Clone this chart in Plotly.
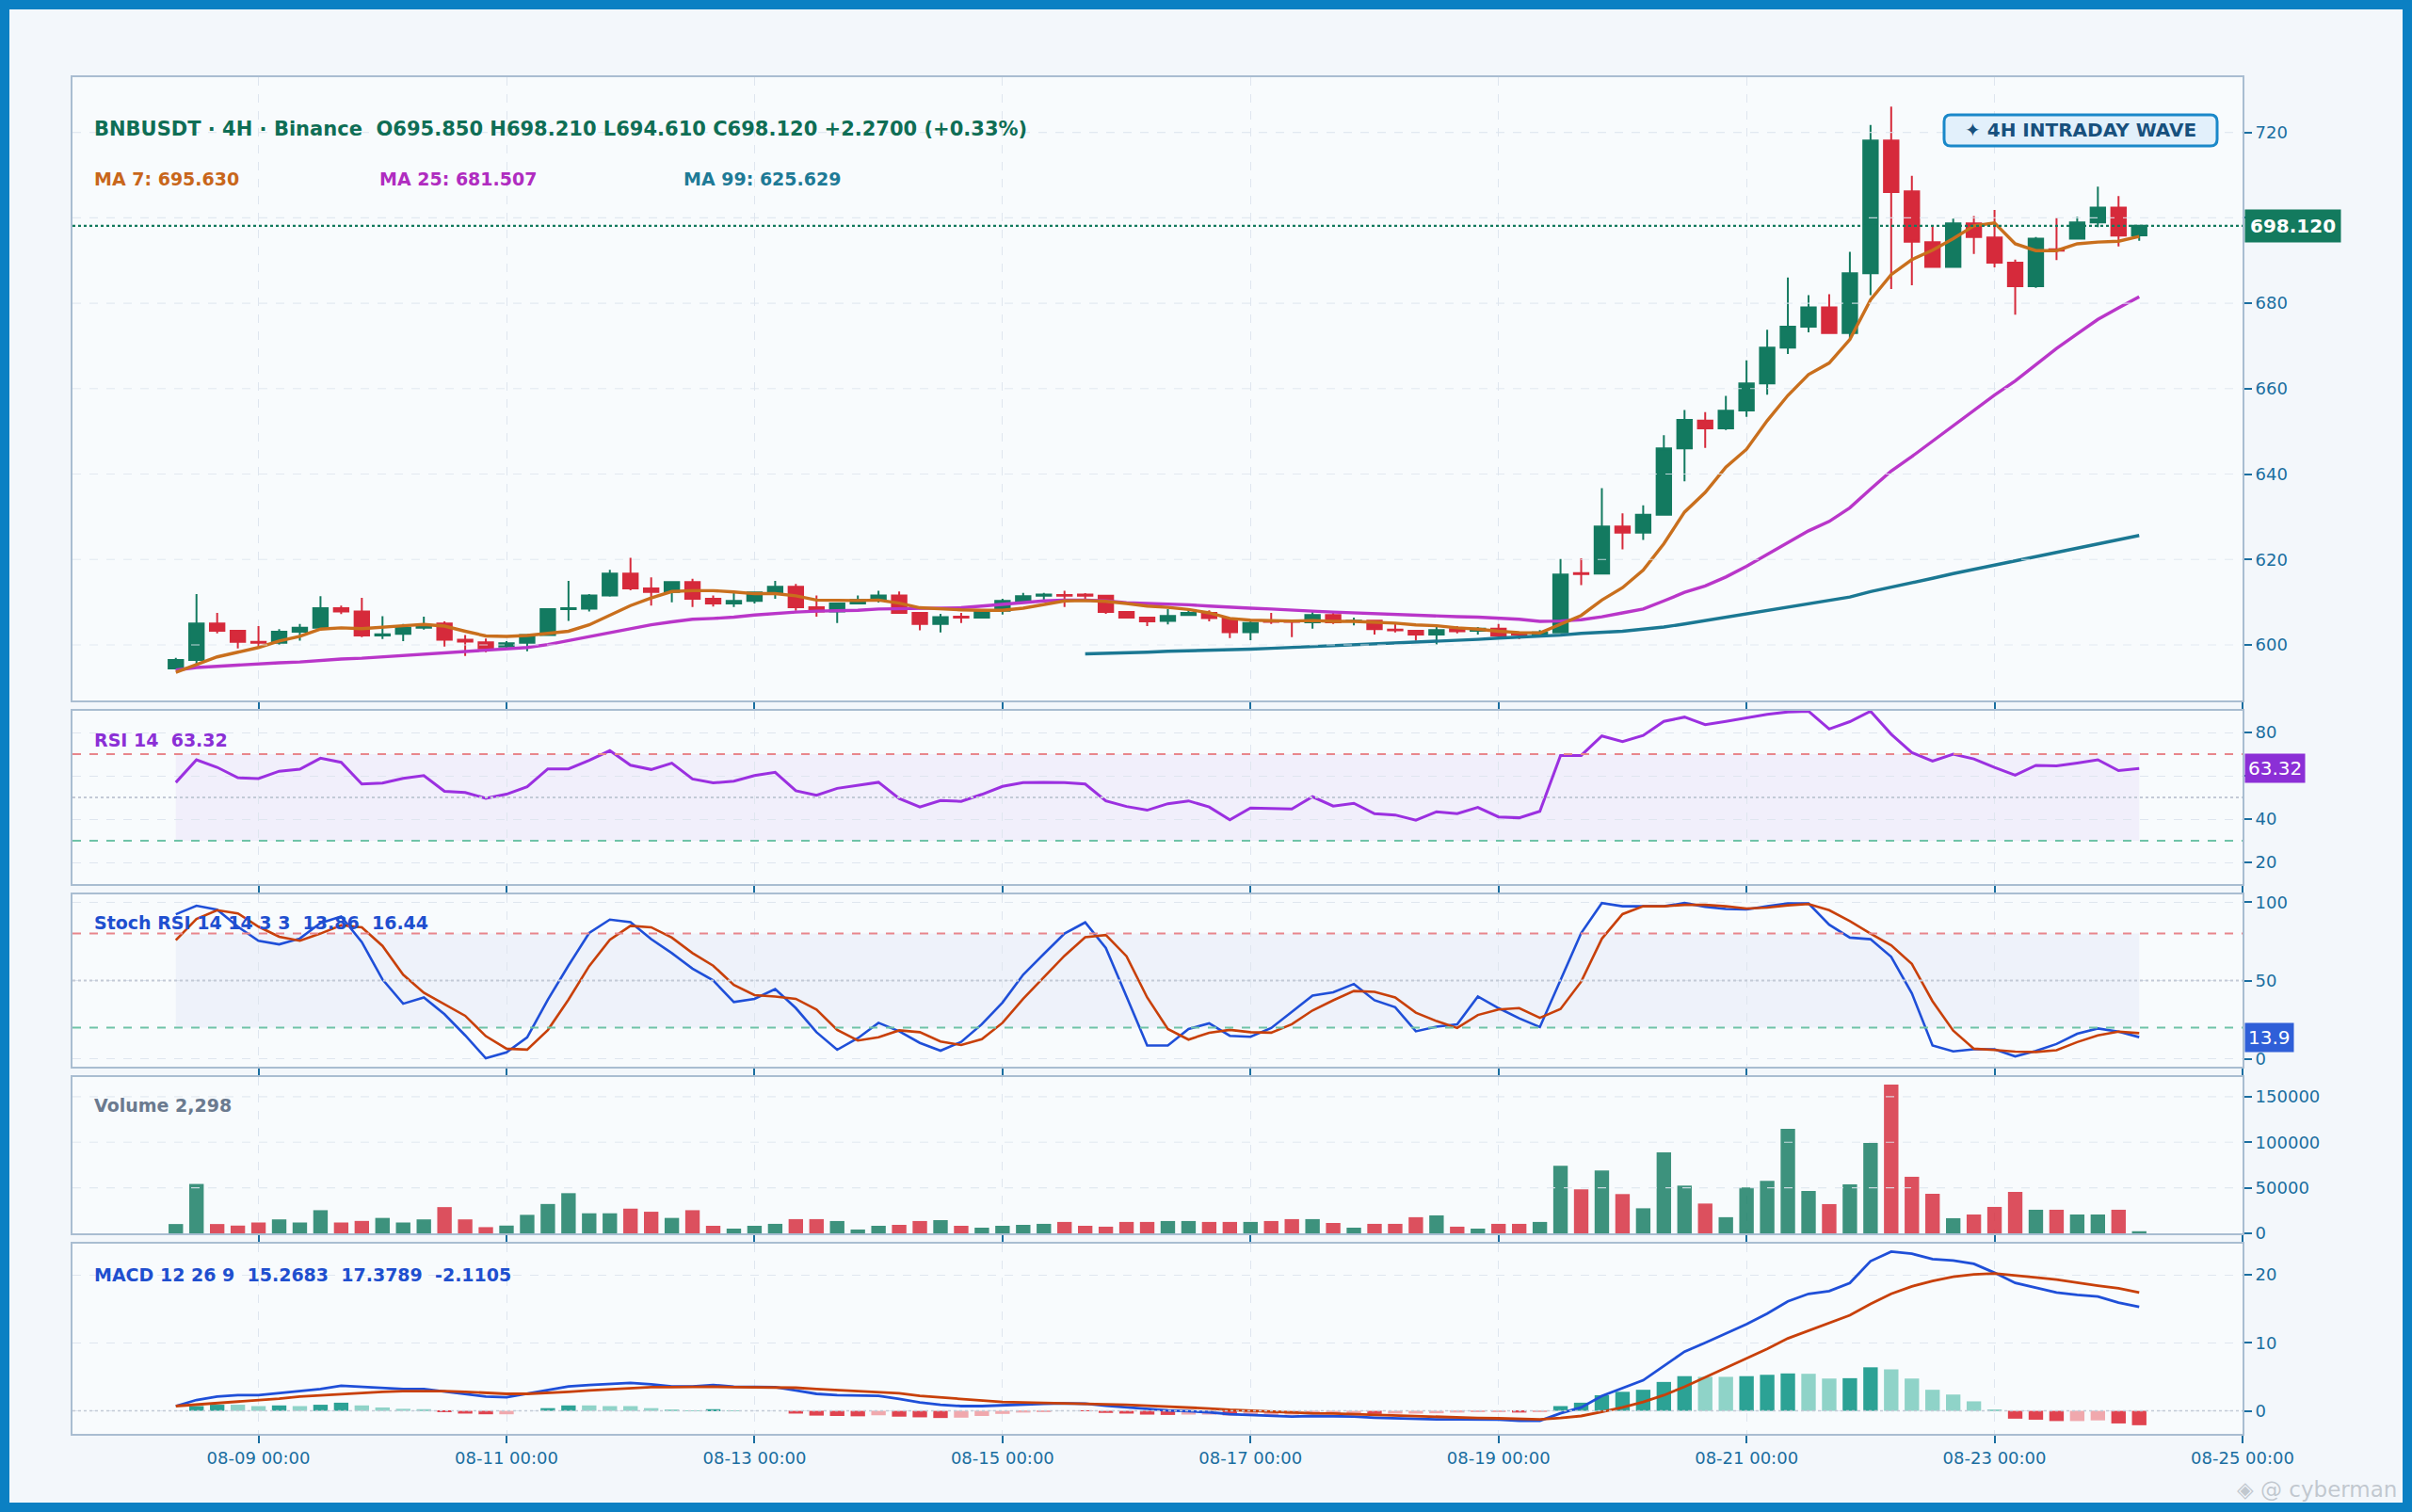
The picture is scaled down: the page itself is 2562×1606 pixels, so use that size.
import pandas as pd
import plotly.graph_objects as go
from plotly.subplots import make_subplots

# --- data (BNBUSDT 4H) ---
START = "2025-08-08 08:00"

open_ = [594.5, 596.5, 605.0, 603.3, 600.7, 600.5, 603.1, 604.0, 608.6, 607.8,
         602.2, 602.6, 604.0, 605.0, 601.2, 600.6, 599.6, 600.5, 602.3, 608.4,
         608.5, 611.6, 616.7, 613.2, 612.4, 614.7, 610.8, 609.7, 610.3, 612.3,
         613.6, 608.8, 607.8, 609.7, 610.5, 611.6, 607.5, 604.9, 606.6, 606.4,
         608.0, 610.3, 611.5, 611.7, 611.8, 611.5, 607.7, 606.4, 605.6, 607.0,
         607.5, 606.2, 603.0, 605.7, 605.6, 605.3, 607.0, 605.5, 605.7, 603.6,
         603.3, 602.4, 603.7, 603.3, 603.8, 602.5, 602.4, 602.9, 616.8, 616.7,
         627.7, 626.3, 630.5, 646.0, 652.5, 650.7, 654.9, 661.2, 669.6, 674.5,
         679.0, 673.0, 687.0, 718.1, 706.2, 694.3, 688.5, 698.7, 695.4, 689.5,
         684.0, 692.6, 695.1, 698.9, 702.4, 695.85]
high = [597.0, 611.9, 607.5, 603.4, 604.4, 603.7, 604.9, 611.4, 609.2, 611.0,
        606.7, 604.9, 606.6, 605.5, 602.3, 601.5, 600.9, 602.5, 608.6, 615.0,
        611.9, 617.6, 620.4, 615.8, 614.8, 615.5, 611.6, 612.5, 612.4, 615.0,
        614.3, 611.6, 609.8, 611.6, 612.7, 612.5, 607.6, 607.3, 607.5, 608.2,
        610.8, 612.2, 612.2, 612.7, 612.1, 611.7, 607.8, 606.5, 608.4, 608.3,
        608.1, 606.3, 605.7, 607.5, 605.7, 607.7, 607.9, 606.4, 605.9, 605.3,
        603.4, 604.2, 604.4, 604.2, 604.9, 602.7, 603.5, 620.1, 620.3, 636.7,
        630.8, 632.7, 649.1, 655.0, 654.5, 658.3, 666.6, 673.8, 686.0, 681.9,
        682.1, 692.0, 721.7, 726.0, 709.8, 697.9, 699.8, 700.4, 701.8, 690.2,
        695.5, 700.0, 700.2, 707.3, 705.1, 698.21]
low = [594.2, 595.4, 602.7, 599.2, 599.4, 600.0, 601.0, 603.4, 607.2, 601.8,
       601.4, 600.9, 603.6, 599.6, 597.4, 598.3, 599.0, 598.5, 602.1, 605.6,
       607.8, 611.3, 612.8, 609.2, 610.0, 608.9, 609.0, 608.9, 609.7, 610.8,
       608.0, 606.6, 605.1, 609.6, 609.9, 607.3, 603.4, 602.9, 605.1, 606.2,
       607.1, 610.2, 610.4, 608.9, 610.6, 607.3, 606.2, 604.4, 604.8, 606.9,
       605.5, 601.6, 601.1, 604.9, 601.8, 603.8, 604.9, 604.6, 602.4, 602.9,
       601.0, 600.1, 602.7, 602.4, 602.0, 601.4, 602.0, 602.7, 614.0, 616.5,
       622.4, 624.6, 630.4, 638.3, 646.1, 650.3, 653.4, 658.6, 668.1, 673.2,
       672.8, 671.7, 681.9, 683.3, 684.2, 688.4, 688.4, 691.5, 688.4, 677.3,
       683.6, 690.1, 695.1, 697.8, 693.3, 694.61]
close = [596.5, 605.0, 603.3, 600.7, 600.5, 603.1, 604.0, 608.6, 607.8, 602.2,
         602.5, 604.0, 604.5, 601.2, 600.8, 599.2, 600.4, 602.3, 608.4, 608.6,
         611.6, 616.7, 613.2, 612.4, 614.7, 610.8, 609.7, 610.3, 612.3, 613.6,
         608.8, 607.8, 609.7, 610.5, 611.6, 607.5, 604.9, 606.5, 606.4, 608.0,
         610.3, 611.4, 611.8, 611.5, 611.5, 607.7, 606.4, 605.5, 606.8, 607.5,
         606.3, 603.0, 605.1, 605.4, 605.4, 607.0, 605.3, 605.7, 603.7, 603.4,
         602.4, 603.5, 603.2, 603.8, 602.2, 602.4, 602.9, 616.5, 616.6, 627.7,
         626.3, 630.5, 646.0, 652.7, 650.7, 654.8, 661.2, 669.6, 674.5, 679.0,
         673.0, 687.0, 718.1, 706.0, 694.4, 688.5, 698.7, 695.5, 689.5, 684.0,
         695.1, 692.3, 698.9, 702.4, 695.8, 698.12]

ma7 = [593.6, 595.4, 597.2, 598.3, 599.4, 600.9, 602.0, 603.7, 604.0, 603.8,
       604.2, 604.5, 604.8, 604.4, 603.2, 602.1, 602.0, 602.2, 602.7, 603.2,
       604.7, 607.0, 609.2, 611.0, 612.5, 612.7, 612.7, 612.4, 612.0, 612.0,
       611.5, 610.5, 610.4, 610.4, 610.5, 609.8, 608.7, 608.4, 608.2, 608.1,
       608.1, 608.6, 609.5, 610.3, 610.4, 610.2, 609.7, 609.1, 608.8, 608.3,
       607.5, 606.2, 605.8, 605.7, 605.6, 605.7, 605.5, 605.5, 605.3, 605.1,
       604.7, 604.5, 604.0, 603.7, 603.2, 602.9, 602.8, 604.9, 606.9, 610.5,
       613.4, 617.5, 623.7, 631.1, 635.7, 641.6, 645.8, 652.5, 658.4, 663.3,
       666.0, 671.5, 680.8, 686.7, 690.2, 692.4, 695.1, 698.1, 698.8, 693.9,
       692.3, 692.3, 693.9, 694.3, 694.5, 695.63]
ma25 = [594.1, 594.7, 595.0, 595.3, 595.5, 595.8, 596.0, 596.4, 596.7, 596.9,
        597.2, 597.5, 597.8, 598.2, 598.5, 598.8, 599.0, 599.4, 600.1, 601.0,
        601.9, 602.9, 603.8, 604.7, 605.4, 606.0, 606.2, 606.5, 607.0, 607.4,
        607.7, 607.9, 608.0, 608.1, 608.4, 608.5, 608.6, 608.6, 608.7, 609.1,
        609.5, 610.0, 610.3, 610.5, 610.5, 610.3, 609.9, 609.7, 609.6, 609.4,
        609.1, 608.8, 608.6, 608.4, 608.1, 607.9, 607.7, 607.5, 607.3, 607.1,
        606.9, 606.8, 606.6, 606.5, 606.3, 606.0, 605.5, 605.6, 605.9, 606.6,
        607.5, 608.4, 610.3, 612.3, 613.8, 615.9, 618.4, 621.1, 623.9, 626.7,
        628.9, 632.1, 636.5, 640.7, 644.1, 647.7, 651.5, 655.1, 658.5, 661.8,
        665.6, 669.4, 672.8, 676.2, 678.9, 681.507]
ma99 = [None] * 44 + [
    597.9, 598.0, 598.2, 598.3, 598.5, 598.6, 598.7, 598.8, 599.0, 599.2,
    599.4, 599.6, 599.8, 600.0, 600.3, 600.5, 600.7, 600.9, 601.1, 601.3,
    601.6, 601.8, 602.0, 602.3, 602.7, 603.0, 603.2, 603.7, 604.2, 604.9,
    605.7, 606.4, 607.2, 608.0, 608.8, 609.7, 610.4, 611.2, 612.5, 613.5,
    614.6, 615.6, 616.7, 617.7, 618.8, 619.8, 620.8, 621.8, 622.8, 623.8,
    624.7, 625.629]

volume = [10200, 54200, 10200, 8500, 11900, 15300, 11900, 25400, 11900, 13600,
          16900, 11900, 15300, 28800, 15300, 6800, 8500, 20300, 32200, 44100,
          22000, 22000, 27100, 23700, 16900, 25400, 8300, 5200, 8300, 10400,
          15600, 15600, 13500, 4200, 8300, 9300, 13500, 14500, 8300, 6200,
          8300, 9300, 10400, 12500, 8300, 7300, 12500, 12500, 13500, 13500,
          12500, 12500, 12500, 13500, 15600, 15600, 11400, 6200, 10400, 10400,
          17700, 19700, 7300, 5200, 10400, 10400, 12500, 74200, 48300, 69100,
          43100, 27500, 88800, 52400, 32700, 17700, 50400, 57600, 114700, 46500,
          32100, 53800, 99300, 163400, 62100, 43400, 16600, 20700, 29000, 45500,
          25900, 25900, 20700, 20700, 25900, 2298]

rsi = [56.9, 67.4, 63.9, 59.1, 58.7, 62.1, 63.0, 68.1, 66.2, 56.2,
       56.6, 58.8, 60.1, 52.8, 52.3, 49.6, 51.5, 54.9, 63.2, 63.2,
       67.1, 71.6, 64.9, 62.9, 65.8, 58.5, 56.7, 57.5, 60.1, 61.6,
       53.1, 51.0, 54.2, 55.5, 57.0, 49.5, 45.6, 48.6, 48.2, 51.4,
       55.1, 56.8, 57.0, 56.8, 56.2, 48.4, 45.8, 44.1, 47.1, 48.4,
       45.6, 39.7, 45.1, 44.9, 44.7, 50.3, 46.0, 47.3, 42.5, 41.9,
       39.5, 43.4, 42.5, 45.4, 41.0, 40.6, 43.6, 69.4, 69.4, 78.4,
       75.8, 78.6, 85.1, 87.1, 83.6, 85.1, 86.6, 88.4, 89.5, 89.8,
       81.6, 85.0, 89.8, 79.2, 70.7, 66.8, 70.0, 67.8, 63.9, 60.3,
       64.8, 64.6, 65.9, 67.4, 62.4, 63.32]

stoch_k = [92.3, 97.8, 95.2, 84.4, 75.4, 73.1, 76.8, 86.7, 90.9, 74.5,
           50.7, 35.2, 39.2, 28.5, 15.0, 0.4, 4.2, 13.7, 37.8, 59.6,
           80.4, 88.9, 87.3, 76.4, 67.5, 57.6, 50.1, 36.3, 38.3, 44.5,
           32.4, 17.0, 5.8, 13.2, 23.0, 17.6, 10.2, 5.2, 10.8, 22.1,
           36.0, 53.7, 67.0, 80.0, 87.1, 70.8, 39.8, 8.5, 8.5, 19.1,
           22.7, 14.7, 14.1, 19.7, 30.0, 40.4, 42.5, 47.8, 37.4, 33.0,
           17.6, 20.6, 22.1, 39.8, 32.4, 25.9, 20.3, 50.7, 80.3, 99.5,
           97.4, 97.4, 97.4, 99.5, 97.1, 95.7, 95.4, 97.4, 99.2, 99.2,
           85.7, 77.4, 76.4, 65.1, 41.8, 8.5, 4.8, 6.1, 6.1, 1.6,
           5.1, 9.5, 16.0, 19.4, 17.4, 13.86]
stoch_d = [75.8, 89.3, 94.9, 92.9, 84.4, 78.0, 75.4, 80.0, 85.3, 84.0,
           72.1, 53.7, 42.2, 34.9, 27.5, 14.5, 6.5, 5.9, 18.4, 37.8,
           59.2, 76.0, 84.9, 84.0, 77.4, 67.5, 59.5, 47.2, 40.7, 39.8,
           38.3, 31.5, 18.5, 11.7, 13.8, 18.2, 17.0, 11.1, 8.8, 12.6,
           23.0, 38.3, 52.2, 65.8, 77.6, 79.1, 65.5, 39.2, 19.1, 12.3,
           16.7, 18.5, 17.0, 16.7, 22.1, 30.9, 37.4, 43.3, 42.8, 39.2,
           29.5, 24.1, 19.7, 28.0, 31.5, 32.4, 26.2, 31.8, 49.3, 76.7,
           92.4, 97.4, 97.4, 98.3, 98.3, 97.4, 96.0, 96.6, 98.0, 98.8,
           94.9, 87.9, 80.0, 72.5, 60.6, 36.8, 18.0, 6.5, 5.7, 4.6,
           4.4, 5.5, 10.7, 15.0, 17.4, 16.44]

macd = [0.7, 1.6, 2.1, 2.3, 2.3, 2.6, 2.8, 3.2, 3.7, 3.5,
        3.3, 3.2, 3.2, 2.8, 2.4, 2.1, 2.0, 2.5, 3.0, 3.6,
        3.8, 3.9, 4.1, 3.9, 3.6, 3.6, 3.8, 3.55, 3.5, 3.5,
        3.0, 2.5, 2.3, 2.2, 2.2, 1.75, 1.25, 0.9, 0.7, 0.7,
        0.85, 1.0, 1.05, 1.1, 1.05, 0.75, 0.5, 0.2, 0.05, -0.05,
        -0.2, -0.5, -0.6, -0.75, -0.85, -0.75, -0.75, -0.85, -1.0, -1.1,
        -1.25, -1.25, -1.25, -1.25, -1.3, -1.45, -1.45, -0.35, 0.5, 2.2,
        3.35, 4.5, 6.6, 8.7, 10.0, 11.4, 12.75, 14.3, 16.1, 17.2,
        17.6, 18.8, 22.0, 23.4, 23.1, 22.3, 22.1, 21.6, 20.3, 18.8,
        18.1, 17.4, 17.05, 16.8, 15.9, 15.2683]
signal = [0.7, 0.9, 1.2, 1.4, 1.6, 1.8, 2.1, 2.3, 2.5, 2.7,
          2.8, 2.9, 2.95, 2.9, 2.8, 2.6, 2.5, 2.5, 2.6, 2.8,
          3.0, 3.2, 3.4, 3.5, 3.5, 3.55, 3.55, 3.5, 3.5, 3.5,
          3.4, 3.2, 3.05, 3.0, 2.85, 2.6, 2.2, 1.95, 1.7, 1.45,
          1.3, 1.25, 1.2, 1.1, 1.1, 1.05, 0.9, 0.75, 0.65, 0.5,
          0.35, 0.15, 0.0, -0.15, -0.3, -0.35, -0.4, -0.5, -0.55, -0.7,
          -0.85, -0.9, -1.0, -1.05, -1.1, -1.2, -1.25, -1.05, -0.75, -0.15,
          0.5, 1.3, 2.3, 3.55, 4.95, 6.35, 7.65, 9.1, 10.65, 11.75,
          12.9, 14.05, 15.7, 17.2, 18.3, 19.1, 19.7, 20.05, 20.2, 19.95,
          19.6, 19.3, 18.8, 18.4, 18.0, 17.3789]
hist = [0.0, 0.7, 0.9, 0.9, 0.7, 0.8, 0.7, 0.9, 1.2, 0.8,
        0.5, 0.3, 0.25, -0.1, -0.4, -0.5, -0.5, 0.0, 0.4, 0.8,
        0.8, 0.7, 0.7, 0.4, 0.1, 0.05, 0.25, 0.05, 0.0, 0.0,
        -0.4, -0.7, -0.75, -0.8, -0.65, -0.85, -0.95, -1.05, -1.0, -0.75,
        -0.45, -0.25, -0.15, 0.0, -0.05, -0.3, -0.4, -0.55, -0.6, -0.55,
        -0.55, -0.65, -0.6, -0.6, -0.55, -0.4, -0.35, -0.35, -0.45, -0.4,
        -0.4, -0.35, -0.25, -0.2, -0.2, -0.25, -0.2, 0.7, 1.2, 2.3,
        2.8, 3.1, 4.25, 5.1, 5.0, 5.0, 5.1, 5.3, 5.5, 5.45,
        4.75, 4.8, 6.4, 6.1, 4.75, 3.1, 2.4, 1.4, 0.2, -1.15,
        -1.3, -1.5, -1.5, -1.4, -1.85, -2.1105]

times = pd.date_range(START, periods=len(close), freq="4h")

# --- colours ---
GREEN = "#137a60"
RED = "#d62a3b"
AXIS = "#1a6ea0"
FRAME = "#a9bdd1"
GRID = "#dfe6ef"
FONT = "DejaVu Sans"

# --- page geometry (pixels) ---
W, H = 2562, 1606
ML, MR, MT, MB = 77, 180, 82, 83
PW, PH = W - ML - MR, H - MT - MB


def px(x):
    return (x - ML) / PW


def py(y):
    return (MT + PH - y) / PH


fig = make_subplots(rows=5, cols=1, shared_xaxes=True, vertical_spacing=0.01)

# Цена + скользящие
fig.add_trace(go.Candlestick(
    x=times, open=open_, high=high, low=low, close=close,
    increasing=dict(line=dict(color=GREEN, width=2), fillcolor=GREEN),
    decreasing=dict(line=dict(color=RED, width=2), fillcolor=RED),
    whiskerwidth=0, showlegend=False, hoverinfo="skip"), row=1, col=1)
fig.add_trace(go.Scatter(x=times, y=ma99, mode="lines", line=dict(color="#1b7893", width=3.4),
                         showlegend=False), row=1, col=1)
fig.add_trace(go.Scatter(x=times, y=ma25, mode="lines", line=dict(color="#b936c9", width=3.4),
                         showlegend=False), row=1, col=1)
fig.add_trace(go.Scatter(x=times, y=ma7, mode="lines", line=dict(color="#c96f1d", width=3.4),
                         showlegend=False), row=1, col=1)

# RSI
fig.add_trace(go.Scatter(x=times, y=rsi, mode="lines", line=dict(color="#9b30e0", width=3),
                         showlegend=False), row=2, col=1)

# Stoch RSI
fig.add_trace(go.Scatter(x=times, y=stoch_k, mode="lines", line=dict(color="#1f4fd8", width=2.6),
                         showlegend=False), row=3, col=1)
fig.add_trace(go.Scatter(x=times, y=stoch_d, mode="lines", line=dict(color="#c8400a", width=2.6),
                         showlegend=False), row=3, col=1)

# Volume
vol_colors = ["rgba(19,122,96,0.82)" if c >= o else "rgba(214,42,59,0.82)"
              for o, c in zip(open_, close)]
fig.add_trace(go.Bar(x=times, y=volume, marker=dict(color=vol_colors, line=dict(width=0)),
                     showlegend=False), row=4, col=1)

# MACD
hist_colors = []
prev = 0.0
for v in hist:
    if v >= 0:
        hist_colors.append("#2ca295" if v > prev else "#8fd3c8")
    else:
        hist_colors.append("#e0434f" if v < prev else "#f0a8ad")
    prev = v
fig.add_trace(go.Bar(x=times, y=hist, marker=dict(color=hist_colors, line=dict(width=0)),
                     showlegend=False), row=5, col=1)
fig.add_trace(go.Scatter(x=times, y=macd, mode="lines", line=dict(color="#1f4fd8", width=2.8),
                         showlegend=False), row=5, col=1)
fig.add_trace(go.Scatter(x=times, y=signal, mode="lines", line=dict(color="#c8400a", width=2.8),
                         showlegend=False), row=5, col=1)

# --- axes ---
domains = [
    [py(744), py(82)],
    [py(939), py(755)],
    [py(1133), py(950)],
    [py(1310), py(1144)],
    [0.0, py(1321)],
]
ranges = [[587.0, 732.9], [10, 90], [-5, 105], [0, 171600], [-3.38, 24.57]]
tickvals = [[600, 620, 640, 660, 680, 700, 720], [20, 40, 60, 80], [0, 50, 100],
            [0, 50000, 100000, 150000], [0, 10, 20]]
# labels hidden behind the last-value tags in the reference
ticktext = [["600", "620", "640", "660", "680", "", "720"], ["20", "40", "", "80"],
            ["0", "50", "100"], ["0", "50000", "100000", "150000"], ["0", "10", "20"]]

for i in range(5):
    fig.update_yaxes(
        row=i + 1, col=1, domain=domains[i], range=ranges[i],
        tickvals=tickvals[i], ticktext=ticktext[i],
        side="right", ticks="outside", ticklen=8, tickwidth=2, tickcolor=AXIS,
        tickfont=dict(size=18, color=AXIS, family=FONT),
        showline=True, linecolor=FRAME, linewidth=2, mirror=True,
        showgrid=(i not in (0, 3)), gridcolor=GRID, griddash="dash", gridwidth=1.2,
        zeroline=False, fixedrange=True)

fig.update_xaxes(
    range=["2025-08-07 12:00", "2025-08-25 00:00"],
    tick0="2025-08-09", dtick=2 * 86400000, tickformat="%m-%d %H:%M",
    ticks="outside", ticklen=8, tickwidth=2, tickcolor=AXIS,
    tickfont=dict(size=18, color=AXIS, family=FONT),
    showline=True, linecolor=FRAME, linewidth=2, mirror=True,
    showgrid=True, gridcolor=GRID, griddash="dash", gridwidth=1.2,
    zeroline=False, rangeslider_visible=False)

shapes = []
# grid drawn over candles and volume bars
for v in tickvals[0]:
    shapes.append(dict(type="line", xref="x domain", yref="y", x0=0, x1=1, y0=v, y1=v,
                       line=dict(color="rgba(222,229,239,0.85)", width=1.2, dash="dash"),
                       layer="above"))
for v in tickvals[3][1:]:
    shapes.append(dict(type="line", xref="x4 domain", yref="y4", x0=0, x1=1, y0=v, y1=v,
                       line=dict(color="rgba(222,229,239,0.85)", width=1.2, dash="dash"),
                       layer="above"))
# last price
shapes.append(dict(type="line", xref="x domain", yref="y", x0=0, x1=1, y0=698.12, y1=698.12,
                   line=dict(color="#137a5e", width=2.2, dash="dot")))
# RSI zone
shapes.append(dict(type="rect", xref="x2", yref="y2", x0=times[0], x1=times[-1], y0=30, y1=70,
                   fillcolor="rgba(150,90,225,0.07)", line=dict(width=0), layer="below"))
for v, c, d in [(70, "#e8868c", "dash"), (30, "#6fc3a8", "dash"), (50, "#c3cad6", "dot")]:
    shapes.append(dict(type="line", xref="x2 domain", yref="y2", x0=0, x1=1, y0=v, y1=v,
                       line=dict(color=c, width=2, dash=d)))
# Stoch zone
shapes.append(dict(type="rect", xref="x3", yref="y3", x0=times[0], x1=times[-1], y0=20, y1=80,
                   fillcolor="rgba(80,110,210,0.06)", line=dict(width=0), layer="below"))
for v, c, d in [(80, "#e8868c", "dash"), (20, "#6fc3a8", "dash"), (50, "#c3cad6", "dot")]:
    shapes.append(dict(type="line", xref="x3 domain", yref="y3", x0=0, x1=1, y0=v, y1=v,
                       line=dict(color=c, width=2, dash=d)))
# MACD zero
shapes.append(dict(type="line", xref="x5 domain", yref="y5", x0=0, x1=1, y0=0, y1=0,
                   line=dict(color="#c3cad6", width=1.6, dash="dot")))

# rounded badge behind "4H INTRADAY WAVE"
bx0, bx1, by0, by1, r = 2065, 2355, 122, 155, 7
rx, ry = r / PW, r / PH
X0, X1, Y0, Y1 = px(bx0), px(bx1), py(by1), py(by0)
badge = (f"M {X0 + rx},{Y1} L {X1 - rx},{Y1} Q {X1},{Y1} {X1},{Y1 - ry} "
         f"L {X1},{Y0 + ry} Q {X1},{Y0} {X1 - rx},{Y0} L {X0 + rx},{Y0} "
         f"Q {X0},{Y0} {X0},{Y0 + ry} L {X0},{Y1 - ry} Q {X0},{Y1} {X0 + rx},{Y1} Z")
shapes.append(dict(type="path", xref="paper", yref="paper", path=badge,
                   fillcolor="#e2f0fb", line=dict(color="#1a88c9", width=3), layer="above"))

# outer frame
shapes.append(dict(type="rect", xref="paper", yref="paper",
                   x0=px(5), x1=px(W - 5), y0=py(H - 5), y1=py(5),
                   line=dict(color="#0b80c3", width=10), fillcolor="rgba(0,0,0,0)",
                   layer="above"))

sp = "\u00a0"
ann = [
    dict(x=px(98), y=py(137),
         text=f"<b>BNBUSDT · 4H · Binance{sp} O695.850 H698.210 L694.610 C698.120 +2.2700 (+0.33%)</b>",
         font=dict(size=21, color="#0f6e55")),
    dict(x=px(98), y=py(190), text="<b>MA 7: 695.630</b>", font=dict(size=19, color="#c8661a")),
    dict(x=px(401), y=py(190), text="<b>MA 25: 681.507</b>", font=dict(size=19, color="#b02cc0")),
    dict(x=px(724), y=py(190), text="<b>MA 99: 625.629</b>", font=dict(size=19, color="#1e7a96")),
    dict(x=px(98), y=py(786), text=f"<b>RSI 14{sp} 63.32</b>", font=dict(size=19, color="#8b2fd6")),
    dict(x=px(98), y=py(980), text=f"<b>Stoch RSI 14 14 3 3{sp} 13.86{sp} 16.44</b>",
         font=dict(size=19, color="#1f4fcf")),
    dict(x=px(98), y=py(1174), text="<b>Volume 2,298</b>", font=dict(size=19, color="#6b7a8f")),
    dict(x=px(98), y=py(1354), text=f"<b>MACD 12 26 9{sp} 15.2683{sp} 17.3789{sp} -2.1105</b>",
         font=dict(size=19, color="#1f4fcf")),
]
for a in ann:
    a.update(xref="paper", yref="paper", xanchor="left", yanchor="middle", showarrow=False)
    a["font"]["family"] = FONT

ann += [
    dict(xref="paper", yref="paper", x=px(2210), y=py(138.5), xanchor="center", yanchor="middle",
         text="<b>✦ 4H INTRADAY WAVE</b>", showarrow=False,
         font=dict(size=20, color="#17507d", family=FONT)),
    dict(xref="paper", yref="y", x=1, y=698.12, xanchor="left", yanchor="middle", xshift=2,
         text="<b>698.120</b>", showarrow=False, font=dict(size=20, color="white", family=FONT),
         bgcolor="#137a5e", borderpad=5),
    dict(xref="paper", yref="y2", x=1, y=63.32, xanchor="left", yanchor="middle", xshift=2,
         text="63.32", showarrow=False, font=dict(size=20, color="white", family=FONT),
         bgcolor="#8b2fd6", borderpad=3),
    dict(xref="paper", yref="y3", x=1, y=13.86, xanchor="left", yanchor="middle", xshift=2,
         text="13.9", showarrow=False, font=dict(size=20, color="white", family=FONT),
         bgcolor="#2f5fd8", borderpad=3),
    # watermark, kept just inside the frame
    dict(xref="paper", yref="paper", x=px(2548), y=py(1582), xanchor="right", yanchor="middle",
         text="◈ @ cyberman", showarrow=False,
         font=dict(size=23, color="rgba(160,168,178,0.6)", family=FONT)),
]

fig.update_layout(
    width=W, height=H, margin=dict(l=ML, r=MR, t=MT, b=MB, autoexpand=False),
    paper_bgcolor="#f3f7fb", plot_bgcolor="#f8fbfd",
    font=dict(family=FONT, color=AXIS),
    bargap=0.3, boxgap=0.3, boxgroupgap=0.0,
    shapes=shapes, annotations=ann, showlegend=False, hovermode=False,
)

fig.write_html("out.html", config={"displayModeBar": False},
               post_script="document.body.style.margin='0';")
